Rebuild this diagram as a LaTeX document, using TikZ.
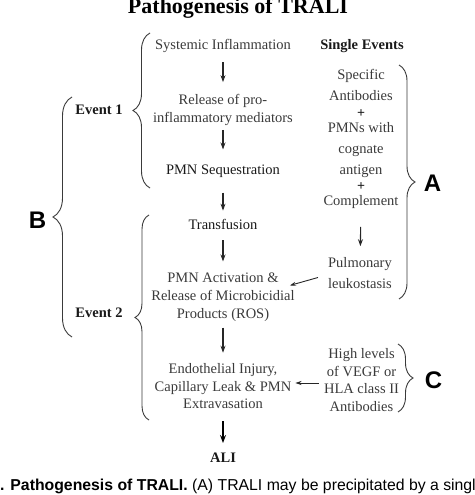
\documentclass[tikz,border=0pt]{standalone}
\usepackage{fontspec}
\setmainfont{Liberation Serif}
\newfontfamily\capfont{Liberation Sans}
\usetikzlibrary{arrows.meta,decorations.pathreplacing}
\definecolor{txtgray}{HTML}{3A3A3A}
\begin{document}
\begin{tikzpicture}[x=1pt,y=-1pt,
  txt/.style={font=\fontsize{14.5}{18}\selectfont, text=txtgray, align=center, inner sep=0pt},
  dark/.style={txt, text=black!90},
  bold/.style={txt, font=\fontsize{14.5}{18}\selectfont\bfseries, text=black!90},
  plus/.style={txt, font=\fontsize{14}{14}\selectfont\bfseries, text=black!90},
  letter/.style={inner sep=0pt, font=\capfont\fontsize{24}{24}\selectfont\bfseries},
  arr/.style={-{Stealth[length=7pt,width=5pt]}, line width=1.1pt, black!85},
  bigarr/.style={-{Stealth[length=8pt,width=6pt]}, line width=1.6pt, black},
  thinarr/.style={-{Stealth[length=6pt,width=4pt]}, line width=0.9pt, black!85},
  cbrace/.style={decorate, decoration={brace, amplitude=#1}, line width=0.9pt, txtgray}]
\useasboundingbox (0,0) rectangle (474,495);
% title and caption
\node[anchor=base, inner sep=0pt, font=\fontsize{22}{22}\selectfont\bfseries] (title) at (238,14) {Pathogenesis of TRALI};
\node[anchor=base west, inner sep=0pt, font=\capfont\fontsize{15.8}{16}\selectfont] (cap) at (0,490) {\textbf{. Pathogenesis of TRALI.} (A) TRALI may be precipitated by a single};
% main column
\node[txt] (sys) at (223,46) {Systemic Inflammation};
\node[txt] (rel) at (223,110) {Release of pro-\\inflammatory mediators};
\node[dark] (seq) at (223,171) {PMN Sequestration};
\node[dark] (tra) at (223,224) {Transfusion};
\node[txt] (act) at (223,297) {PMN Activation \&\\Release of Microbicidial\\Products (ROS)};
\node[txt, font=\fontsize{14.5}{17.5}\selectfont] (endo) at (223,386.5) {Endothelial Injury,\\Capillary Leak \& PMN\\Extravasation};
\node[bold] (ali) at (223,458) {ALI};
% right column
\node[bold] (single) at (362,46) {Single Events};
\node[txt, font=\fontsize{14.5}{21}\selectfont] (spec) at (361,85) {Specific\\Antibodies};
\node[plus] (plus1) at (361,114) {+};
\node[txt, font=\fontsize{14.5}{21}\selectfont] (pmns) at (361,150) {PMNs with\\cognate\\antigen};
\node[plus] (plus2) at (361,187) {+};
\node[txt] (comp) at (361,202) {Complement};
\node[txt, font=\fontsize{14.5}{21}\selectfont] (pulm) at (360,273) {Pulmonary\\leukostasis};
\node[txt, font=\fontsize{14.5}{17.7}\selectfont] (hla) at (361.5,380) {High levels\\of VEGF or\\HLA class II\\Antibodies};
% event labels and letters
\node[bold] (ev1) at (99,110) {Event 1};
\node[bold] (ev2) at (99,313) {Event 2};
\node[letter] (B) at (37.5,220) {B};
\node[letter] (A) at (432.5,183) {A};
\node[letter] (C) at (433.5,380.5) {C};
% arrows
\draw[arr, shorten <=9.5pt, shorten >=12pt] (sys) -- (rel);
\draw[arr, shorten <=4pt, shorten >=15pt] (rel) -- (seq);
\draw[arr, shorten <=15pt, shorten >=8pt] (seq) -- (tra);
\draw[arr, shorten <=11pt, shorten >=11pt] (tra) -- (act);
\draw[arr, shorten <=6pt, shorten >=11pt] (act) -- (endo);
\draw[bigarr, shorten <=12pt, shorten >=10pt] (endo) -- (ali);
\draw[arr, shorten <=18pt, shorten >=11pt] (comp) -- (pulm);
\draw[thinarr] ([xshift=-10pt,yshift=-4.5pt]pulm.west) -- ([xshift=-5pt,yshift=-13pt]act.north east);
\draw[thinarr, shorten <=5pt, shorten >=4pt] ([yshift=-3pt]hla.west) -- ([yshift=3.5pt]endo.east);
% braces
\draw[cbrace=17pt] (150,188) -- (150,33);
\draw[cbrace=14pt] (149,420) -- (149,215);
\draw[cbrace=19pt] (72,337) -- (72,97);
\draw[cbrace=16pt] (399,65) -- (399,299);
\draw[cbrace=15pt] (398,344) -- (398,412);
\end{tikzpicture}
\end{document}
